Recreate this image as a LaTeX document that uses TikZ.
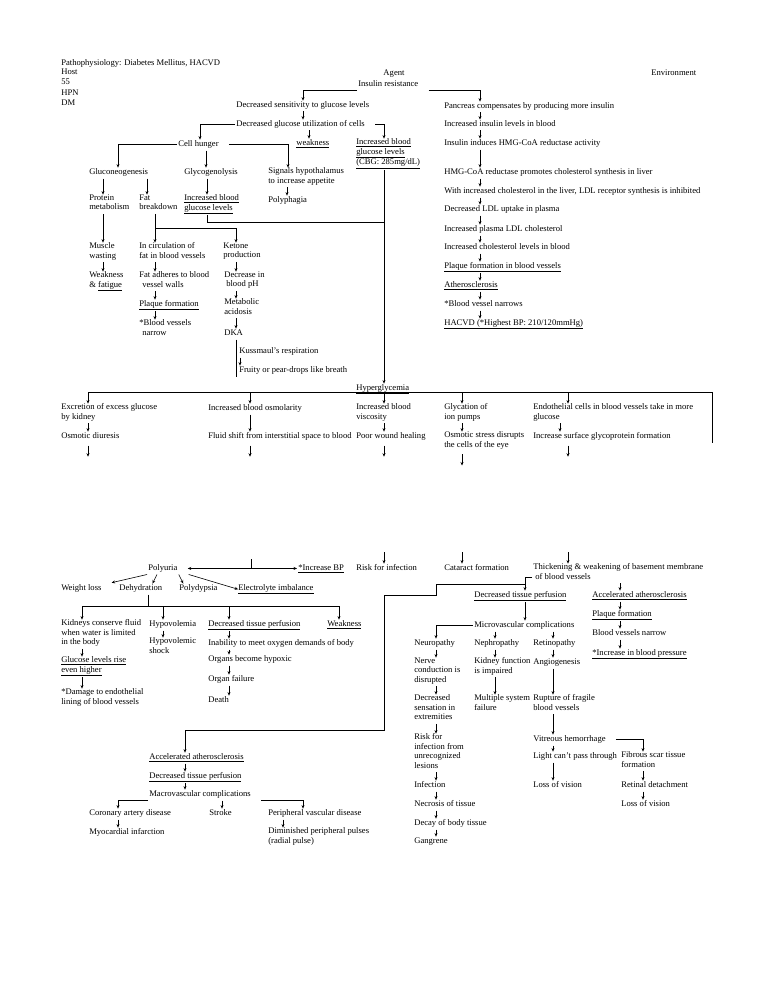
\documentclass[tikz,border=0pt]{standalone}
\usepackage{fontspec}
\setmainfont{Liberation Serif}
\usetikzlibrary{arrows.meta}
\newcommand\dmfont{\fontsize{8.6}{9.5}\selectfont}
\newcommand\uln[1]{\underline{#1}}
\tikzset{
  txt/.style={anchor=north west, inner sep=1pt, align=left, font=\dmfont, yshift=4.6pt,
    execute at begin node=\strut, execute at end node=\strut},
  arr/.style={-{Stealth[length=3.5pt,width=3pt]}, shorten >=-1.2pt},
  darr/.style={{Stealth[length=3.5pt,width=3pt]}-{Stealth[length=3.5pt,width=3pt]}},
  gap/.style={shorten <=9pt},
}
\begin{document}
\begin{tikzpicture}[x=1pt,y=-1pt,line width=0.6pt]
\useasboundingbox (0,0) rectangle (768,1006);
% columns and rows used by the connectors
\foreach \c in {82,88,103,118,147,148,155,163,185,200,206,207,222,229,236,240,250,251,283,287,288,303,309,339,384,436,462,480,495,525,553,560,568,620,643,712}
  \coordinate (x\c) at (\c,0);
\coordinate (r222) at (0,222);
\coordinate (r228) at (0,228);
\coordinate (r392) at (0,392);
\coordinate (r584) at (0,584);
\coordinate (r595) at (0,595);
\coordinate (r606) at (0,606);
\coordinate (r730) at (0,730);

% header
\node[txt] (title) at (60,62) {Pathophysiology: Diabetes Mellitus, HACVD};
\node[txt] (host) at (60,71) {Host};
\node[txt] (age) at (60,81) {55};
\node[txt] (hpn) at (60,92) {HPN};
\node[txt] (dm) at (60,102) {DM};
\node[txt, anchor=north] (agent) at (394,72) {Agent};
\node[txt] (env) at (650,72) {Environment};
\node[txt] (insres) at (357,83) {Insulin resistance};

% host side
\node[txt] (dsens) at (235,104) {Decreased sensitivity to glucose levels};
\node[txt] (dutil) at (235,123) {Decreased glucose utilization of cells};
\node[txt] (hunger) at (177,143) {Cell hunger};
\node[txt] (weak1) at (295,142) {\uln{weakness}};
\node[txt] (ibg1) at (355,142) {\uln{Increased blood}\\\uln{glucose levels}\\\uln{(CBG: 285mg/dL)}};
\node[txt] (gluco) at (88,171) {Gluconeogenesis};
\node[txt] (glyco) at (183,171) {Glycogenolysis};
\node[txt] (signal) at (267,171) {Signals hypothalamus\\to increase appetite};
\node[txt] (protein) at (88,198) {Protein\\metabolism};
\node[txt] (fat) at (138,198) {Fat\\breakdown};
\node[txt] (ibg2) at (183,198) {\uln{Increased blood}\\\uln{glucose levels}};
\node[txt] (polyph) at (267,199) {Polyphagia};
\node[txt] (muscle) at (88,246) {Muscle\\wasting};
\node[txt] (circ) at (138,246) {In circulation of\\fat in blood vessels};
\node[txt] (ketone) at (222,246) {Ketone\\production};
\node[txt] (weak2) at (88,275) {Weakness\\\& \uln{fatigue}};
\node[txt] (adhere) at (138,275) {Fat adheres to blood\\\hspace*{3pt}vessel walls};
\node[txt] (decph) at (223,275) {Decrease in\\\hspace*{2pt}blood pH};
\node[txt] (plaque1) at (138,303) {\uln{Plaque formation}};
\node[txt] (narrow1) at (138,323) {*Blood vessels\\\hspace*{3pt}narrow};
\node[txt] (metab) at (223,302) {Metabolic\\acidosis};
\node[txt] (dka) at (223,332) {DKA};
\node[txt] (kuss) at (238,350) {Kussmaul's respiration};
\node[txt] (fruity) at (238,369) {Fruity or pear-drops like breath};
\node[txt] (hyper) at (355,387) {\uln{Hyperglycemia}};

% environment side
\node[txt] (panc) at (443,105) {Pancreas compensates by producing more insulin};
\node[txt] (incins) at (443,123) {Increased insulin levels in blood};
\node[txt] (induce) at (443,142) {Insulin induces HMG-CoA reductase activity};
\node[txt] (hmg) at (443,171) {HMG-CoA reductase promotes cholesterol synthesis in liver};
\node[txt] (ldlrec) at (443,190) {With increased cholesterol in the liver, LDL receptor synthesis is inhibited};
\node[txt] (decldl) at (443,208) {Decreased LDL uptake in plasma};
\node[txt] (incldl) at (443,228) {Increased plasma LDL cholesterol};
\node[txt] (incchol) at (443,246) {Increased cholesterol levels in blood};
\node[txt] (plaque2) at (443,265) {\uln{Plaque formation in blood vessels}};
\node[txt] (athero1) at (443,284) {\uln{Atherosclerosis}};
\node[txt] (narrow2) at (443,303) {*Blood vessel narrows};
\node[txt] (hacvd) at (443,322) {\uln{HACVD (*Highest BP: 210/120mmHg)}};

% hyperglycemia row
\node[txt] (excr) at (60,407) {Excretion of excess glucose\\by kidney};
\node[txt] (osmol) at (207,407) {Increased blood osmolarity};
\node[txt] (visc) at (355,407) {Increased blood\\viscosity};
\node[txt] (glyc) at (443,407) {Glycation of\\ion pumps};
\node[txt] (endo) at (532,407) {Endothelial cells in blood vessels take in more\\glucose};
\node[txt] (diur) at (60,435) {Osmotic diuresis};
\node[txt] (fluid) at (207,435) {Fluid shift from interstitial space to blood};
\node[txt] (wound) at (355,435) {Poor wound healing};
\node[txt] (stress) at (443,435) {Osmotic stress disrupts\\the cells of the eye};
\node[txt] (glycop) at (532,435) {Increase surface glycoprotein formation};

% second part
\node[txt] (polyuria) at (147,567) {Polyuria};
\node[txt] (incbp) at (297,567) {\uln{*Increase BP}};
\node[txt] (risk) at (355,567) {Risk for infection};
\node[txt] (catar) at (443,567) {Cataract formation};
\node[txt] (thick) at (532,567) {Thickening \& weakening of basement membrane\\\hspace*{2pt}of blood vessels};
\node[txt] (wloss) at (60,587) {Weight loss};
\node[txt] (dehyd) at (118,587) {Dehydration};
\node[txt] (polyd) at (178,587) {Polydypsia};
\node[txt] (electro) at (237,587) {\uln{Electrolyte imbalance}};
\node[txt] (kidney) at (60,623) {Kidneys conserve fluid\\when water is limited\\in the body};
\node[txt] (hypov) at (148,623) {Hypovolemia};
\node[txt] (dtp1) at (207,623) {\uln{Decreased tissue perfusion}};
\node[txt] (weak3) at (326,623) {\uln{Weakness}};
\node[txt] (shock) at (148,641) {Hypovolemic\\shock};
\node[txt] (inab) at (207,642) {Inability to meet oxygen demands of body};
\node[txt] (hypox) at (207,658) {Organs become hypoxic};
\node[txt] (ofail) at (207,678) {Organ failure};
\node[txt] (death) at (207,699) {Death};
\node[txt] (gluc) at (60,660) {\uln{Glucose levels rise}\\\uln{even higher}};
\node[txt] (damage) at (60,692) {*Damage to endothelial\\lining of blood vessels};

\node[txt] (dtp2) at (473,594) {\uln{Decreased tissue perfusion}};
\node[txt] (accel1) at (591,594) {\uln{Accelerated atherosclerosis}};
\node[txt] (plaque3) at (591,613) {\uln{Plaque formation}};
\node[txt] (narrow3) at (591,632) {Blood vessels narrow};
\node[txt] (incbp2) at (591,652) {\uln{*Increase in blood pressure}};
\node[txt] (micro) at (473,624) {Microvascular complications};
\node[txt] (neuro) at (413,642) {Neuropathy};
\node[txt] (nephro) at (473,642) {Nephropathy};
\node[txt] (retino) at (532,642) {Retinopathy};
\node[txt] (nerve) at (413,661) {Nerve\\conduction is\\disrupted};
\node[txt] (kfunc) at (473,661) {Kidney function\\is impaired};
\node[txt] (angio) at (532,661) {Angiogenesis};
\node[txt] (dsens2) at (413,698) {Decreased\\sensation in\\extremities};
\node[txt] (msf) at (473,698) {Multiple system\\failure};
\node[txt] (rupture) at (532,698) {Rupture of fragile\\blood vessels};
\node[txt] (riskinf) at (413,737) {Risk for\\infection from\\unrecognized\\lesions};
\node[txt] (vitr) at (532,738) {Vitreous hemorrhage};
\node[txt] (light) at (532,755) {Light can't pass through};
\node[txt] (fibr) at (620,755) {Fibrous scar tissue\\formation};
\node[txt] (loss1) at (532,784) {Loss of vision};
\node[txt] (retdet) at (620,784) {Retinal detachment};
\node[txt] (loss2) at (620,803) {Loss of vision};
\node[txt] (infec) at (413,784) {Infection};
\node[txt] (necro) at (413,803) {Necrosis of tissue};
\node[txt] (decay) at (413,822) {Decay of body tissue};
\node[txt] (gang) at (413,840) {Gangrene};

\node[txt] (accel2) at (148,756) {\uln{Accelerated atherosclerosis}};
\node[txt] (dtp3) at (148,775) {\uln{Decreased tissue perfusion}};
\node[txt] (macro) at (148,793) {Macrovascular complications};
\node[txt] (cad) at (88,812) {Coronary artery disease};
\node[txt] (stroke) at (208,812) {Stroke};
\node[txt] (pvd) at (267,812) {Peripheral vascular disease};
\node[txt] (mi) at (88,831) {Myocardial infarction};
\node[txt] (dpp) at (267,831) {Diminished peripheral pulses\\(radial pulse)};

% connectors, top
\draw[arr] (insres.south west) -| (dsens.north -| x303);
\draw[arr,gap] (insres.south east) -| (panc.north -| x480);
\draw[arr] (dsens.south -| x303) -- (dutil.north -| x303);
\draw[arr] (dutil.west) -| (hunger.north -| x200);
\draw[arr,gap] (dutil.east) -| (ibg1.north -| x384);
\draw[arr] (dutil.south -| x309) -- (weak1.north -| x309);
\draw[arr] (hunger.west) -| (gluco.north -| x118);
\draw[arr,gap] (hunger.east) -| (signal.north -| x288);
\draw[arr] (hunger.south -| x206) -- (glyco.north -| x206);
\draw[arr] (gluco.south -| x103) -- (protein.north -| x103);
\draw[arr] (gluco.south -| x147) -- (fat.north -| x147);
\draw[arr] (glyco.south -| x207) -- (ibg2.north -| x207);
\draw[arr] (signal.south -| x287) -- (polyph.north -| x287);
\draw (ibg2.south -| x207) |- (x384 |- r222);
\draw[arr] (ibg1.south -| x384) -- (hyper.north -| x384);
\draw (fat.south -| x155) -- (x155 |- r228) -- (x236 |- r228);
\draw[arr] (x155 |- r228) -- (circ.north -| x155);
\draw[arr] (x236 |- r228) -- (ketone.north -| x236);
\foreach \a/\b/\c in {protein/muscle/103, muscle/weak2/103, circ/adhere/155, adhere/plaque1/155,
  plaque1/narrow1/155, ketone/decph/236, decph/metab/236, metab/dka/236}
  \draw[arr] (\a.south -| x\c) -- (\b.north -| x\c);
\draw (dka.south -| x236) -- (fruity.south -| x236);
\draw[arr] (kuss.south -| x240) -- (fruity.north -| x240);
\foreach \a/\b in {panc/incins, incins/induce, induce/hmg, hmg/ldlrec, ldlrec/decldl, decldl/incldl,
  incldl/incchol, incchol/plaque2, plaque2/athero1, athero1/narrow2, narrow2/hacvd}
  \draw[arr] (\a.south -| x480) -- (\b.north -| x480);

% hyperglycemia branches
\draw (x88 |- r392) -- (x712 |- r392) -- (glycop.south -| x712);
\foreach \n/\c in {excr/88, osmol/250, visc/384, glyc/462, endo/568}
  \draw[arr] (x\c |- r392) -- (\n.north -| x\c);
\foreach \a/\b/\c in {excr/diur/88, osmol/fluid/250, visc/wound/384, glyc/stress/462, endo/glycop/560}
  \draw[arr] (\a.south -| x\c) -- (\b.north -| x\c);
\foreach \n/\c in {diur/88, fluid/250, wound/384, stress/462, glycop/568}
  \draw[arr] (\n.south -| x\c) ++(0,3) -- ++(0,10);
\foreach \n/\c in {risk/384, catar/462, thick/568}
  \draw[arr] (\n.north -| x\c) ++(0,-10) -- (\n.north -| x\c);

% polyuria and dehydration
\draw[darr,gap] (polyuria.east) -- (incbp.west);
\draw (x251 |- polyuria.east) -- ++(0,-9);
\draw[arr] (polyuria.south west) -- ([xshift=10pt]wloss.north east);
\draw[arr] ([xshift=10pt]polyuria.south west) -- ++(-4,8);
\draw[arr] (polyuria.south east) -- ++(4,8);
\draw[arr] ([xshift=10pt]polyuria.south east) -- (electro.west);
\draw (dehyd.south -| x148) -- (x148 |- r606);
\draw (x82 |- r606) -- (x339 |- r606);
\foreach \n/\c in {kidney/82, hypov/163, dtp1/229, weak3/339}
  \draw[arr] (x\c |- r606) -- (\n.north -| x\c);
\foreach \a/\b/\c in {kidney/gluc/82, gluc/damage/82, hypov/shock/163, dtp1/inab/229,
  inab/hypox/229, hypox/ofail/229, ofail/death/229}
  \draw[arr] (\a.south -| x\c) -- (\b.north -| x\c);

% basement membrane branches
\draw[arr] ([yshift=6pt]thick.south west) -| (dtp2.north -| x525);
\draw[arr] (x525 |- r584) -| (x436 |- r595) -- (x384 |- r595) -- (x384 |- r730) -| (accel2.north -| x185);
\draw[arr] (micro.west) -| (neuro.north -| x436);
\draw[arr,gap] (vitr.east) -| (fibr.north -| x643);
\foreach \a/\b/\c in {thick/accel1/620, accel1/plaque3/620, plaque3/narrow3/620, narrow3/incbp2/620,
  dtp2/micro/525, micro/nephro/495, micro/retino/553, neuro/nerve/436, nephro/kfunc/495,
  retino/angio/553, nerve/dsens2/436, kfunc/msf/495, angio/rupture/553, dsens2/riskinf/436,
  rupture/vitr/553, vitr/light/553, light/loss1/553, fibr/retdet/643, retdet/loss2/643,
  riskinf/infec/436, infec/necro/436, necro/decay/436, decay/gang/436}
  \draw[arr] (\a.south -| x\c) -- (\b.north -| x\c);

% macrovascular
\draw[arr] (macro.south west) -| (cad.north -| x118);
\draw[arr,gap] (macro.south east) -| (pvd.north -| x303);
\foreach \a/\b/\c in {accel2/dtp3/185, dtp3/macro/185, macro/stroke/222, cad/mi/118, pvd/dpp/283}
  \draw[arr] (\a.south -| x\c) -- (\b.north -| x\c);
\end{tikzpicture}
\end{document}
